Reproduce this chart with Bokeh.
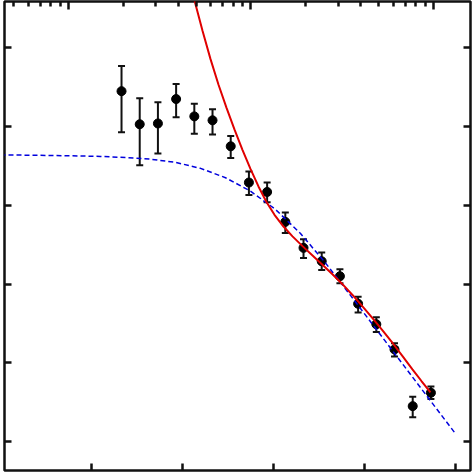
from bokeh.plotting import figure
from bokeh.models import (ColumnDataSource, Whisker, TeeHead, Range1d, LinearAxis,
                          LogAxis, LogScale, FixedTicker, SingleIntervalTicker,
                          CustomJSTickFormatter)
from bokeh.embed import file_html
from bokeh.resources import INLINE

# ---- data ----
x_pts = [1.33, 1.53, 1.73, 1.93, 2.13, 2.33, 2.53, 2.73, 2.93, 3.13, 3.33, 3.53,
         3.73, 3.93, 4.13, 4.33, 4.53, 4.73]
y_pts = [4.45, 4.03, 4.04, 4.35, 4.13, 4.08, 3.75, 3.29, 3.17, 2.79, 2.46, 2.29,
         2.10, 1.75, 1.49, 1.17, 0.45, 0.62]
y_up = [4.77, 4.36, 4.31, 4.54, 4.29, 4.22, 3.88, 3.43, 3.29, 2.91, 2.57, 2.40,
        2.19, 1.84, 1.58, 1.25, 0.57, 0.70]
y_lo = [3.93, 3.51, 3.66, 4.12, 3.91, 3.90, 3.60, 3.13, 3.04, 2.65, 2.33, 2.18,
        2.01, 1.64, 1.39, 1.08, 0.31, 0.54]

red_x = [2.088, 2.132, 2.220, 2.308, 2.396, 2.484, 2.571, 2.659, 2.747, 2.835,
         2.923, 3.011, 3.110, 3.209, 3.319, 3.429, 3.538, 3.648, 3.758, 3.868,
         3.978, 4.088, 4.198, 4.308, 4.418, 4.527, 4.626, 4.725]
red_y = [5.800, 5.602, 5.217, 4.857, 4.532, 4.238, 3.964, 3.706, 3.463, 3.240,
         3.042, 2.880, 2.731, 2.606, 2.482, 2.364, 2.246, 2.125, 1.999, 1.862,
         1.717, 1.568, 1.413, 1.252, 1.085, 0.918, 0.769, 0.624]

blue_x = [0.000, 0.549, 1.099, 1.374, 1.648, 1.923, 2.198, 2.473, 2.747, 3.022,
          3.297, 3.571, 3.846, 4.121, 4.396, 4.725, 5.000]
blue_y = [3.641, 3.634, 3.622, 3.607, 3.587, 3.546, 3.470, 3.351, 3.181, 2.948,
          2.643, 2.269, 1.857, 1.439, 1.020, 0.518, 0.100]

# top (logarithmic) axis ticks
top_major = [1, 10, 100]
top_minor = [0.5, 0.6, 0.7, 0.8, 0.9, 2, 3, 4, 5, 6, 7, 8, 9,
             20, 30, 40, 50, 60, 70, 80, 90]

x_lo, x_hi = 0.044, 5.165
y_lo_r, y_hi_r = -0.3675, 5.589
top_lo, top_hi = 0.446, 159.5

p = figure(width=474, height=474, output_backend="svg", toolbar_location=None,
           x_range=Range1d(x_lo, x_hi), y_range=Range1d(y_lo_r, y_hi_r),
           min_border_left=0, min_border_right=4, min_border_top=1, min_border_bottom=2,
           background_fill_color="white", border_fill_color="white")
p.xgrid.visible = False
p.ygrid.visible = False
p.outline_line_color = "#111111"
p.outline_line_width = 2.5
p.outline_line_alpha = 1.0

bottom_axis = p.below[0]
left_axis = p.left[0]

p.extra_x_ranges = {"top": Range1d(top_lo, top_hi)}
p.extra_x_scales = {"top": LogScale()}

right_axis = LinearAxis()
top_axis = LogAxis(x_range_name="top",
                   ticker=FixedTicker(ticks=top_major, minor_ticks=top_minor))
p.add_layout(right_axis, "right")
p.add_layout(top_axis, "above")

for ax in [bottom_axis, left_axis, right_axis]:
    ax.ticker = SingleIntervalTicker(interval=1)
    ax.minor_tick_line_color = None

for ax in [bottom_axis, left_axis, right_axis, top_axis]:
    ax.axis_line_color = None
    ax.major_tick_in = 7
    ax.major_tick_out = 0
    ax.major_tick_line_width = 2.5
    ax.major_tick_line_color = "#111111"
    ax.formatter = CustomJSTickFormatter(code="return ''")
    ax.major_label_text_font_size = "0px"
    ax.major_label_standoff = 0
    ax.axis_label = None

top_axis.major_tick_in = 8
top_axis.minor_tick_in = 5
top_axis.minor_tick_out = 0
top_axis.minor_tick_line_width = 2.5
top_axis.minor_tick_line_color = "#111111"

src = ColumnDataSource(dict(x=x_pts, y=y_pts, up=y_up, lo=y_lo))
wh = Whisker(source=src, base="x", upper="up", lower="lo", line_width=2,
             line_color="#111111", level="underlay",
             upper_head=TeeHead(size=7, line_width=2, line_color="#111111"),
             lower_head=TeeHead(size=7, line_width=2, line_color="#111111"))
p.add_layout(wh)
p.scatter("x", "y", source=src, size=9, color="black")

p.line(blue_x, blue_y, line_color="#0000dd", line_width=1.5, line_dash="5 3")
p.line(red_x, red_y, line_color="#e00000", line_width=2)

open("out.html", "w").write(file_html(p, INLINE))
